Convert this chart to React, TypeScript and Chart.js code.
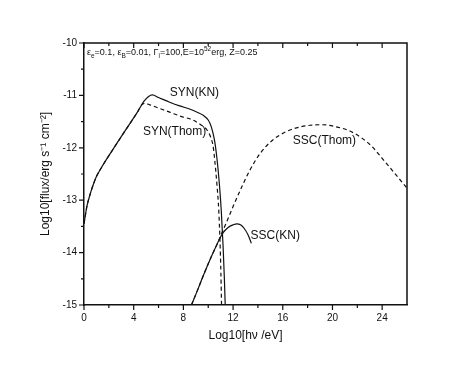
import React, { useEffect, useRef } from "react";
import { Chart, registerables } from "chart.js";
Chart.register(...registerables);

const FONT = "'Liberation Sans', Arial, sans-serif";
const INK = "#111";

const xMajorTicks = [0, 4, 8, 12, 16, 20, 24];
const xMinorTicks = [2, 6, 10, 14, 18, 22];
const yMajorTicks = [-15, -14, -13, -12, -11, -10];
const yMinorTicks = [-14.5, -13.5, -12.5, -11.5, -10.5];

const synKnX = [0, 0.1, 0.25, 0.5, 0.75, 1.0, 1.42, 2.33, 3.1, 3.8, 4.35, 4.8, 5.2, 5.5, 6.0, 6.9, 7.7, 8.5, 9.2, 9.6, 10.0, 10.25, 10.5, 10.7, 10.9, 11.05, 11.2, 11.3, 11.38];
const synKnY = [-13.45, -13.3, -13.1, -12.88, -12.7, -12.55, -12.37, -12.03, -11.75, -11.5, -11.3, -11.12, -11.02, -10.99, -11.04, -11.13, -11.2, -11.26, -11.33, -11.38, -11.47, -11.6, -11.85, -12.2, -12.7, -13.2, -13.9, -14.5, -15.1];

const synThX = [0, 0.1, 0.25, 0.5, 0.75, 1.0, 1.42, 2.33, 3.1, 3.8, 4.35, 4.6, 4.9, 5.3, 6.1, 6.9, 7.8, 8.76, 9.4, 9.9, 10.2, 10.4, 10.55, 10.7, 10.85, 10.95, 11.02, 11.08];
const synThY = [-13.45, -13.3, -13.1, -12.88, -12.7, -12.55, -12.37, -12.03, -11.75, -11.5, -11.3, -11.19, -11.15, -11.18, -11.25, -11.32, -11.4, -11.47, -11.56, -11.66, -11.8, -11.98, -12.3, -12.7, -13.2, -13.8, -14.4, -15.1];

const sscKnX = [8.65, 9.1, 9.5, 9.9, 10.3, 10.75, 11.2, 11.6, 12.0, 12.3, 12.6, 12.9, 13.2, 13.47];
const sscKnY = [-15.0, -14.74, -14.5, -14.27, -14.05, -13.82, -13.62, -13.52, -13.47, -13.45, -13.47, -13.54, -13.66, -13.82];

const sscThX = [8.65, 9.1, 9.5, 9.9, 10.3, 10.75, 11.2, 11.6, 12.0, 12.6, 13.3, 14.2, 15.2, 16.2, 17.1, 18.2, 19.2, 20.3, 21.4, 22.4, 23.2, 24.0, 24.6, 25.3, 26.0];
const sscThY = [-15.0, -14.74, -14.5, -14.27, -14.05, -13.82, -13.57, -13.35, -13.12, -12.8, -12.45, -12.1, -11.85, -11.7, -11.62, -11.57, -11.56, -11.6, -11.68, -11.82, -11.98, -12.2, -12.37, -12.57, -12.77];

const curveLabels: [string, number, number][] = [
  ["SYN(KN)", 6.9, -10.95],
  ["SYN(Thom)", 4.74, -11.7],
  ["SSC(Thom)", 16.8, -11.87],
  ["SSC(KN)", 13.41, -13.68],
];

// annotation: [text, kind] kind: n normal, b subscript, p superscript
const annotation: [string, string][] = [
  ["ε", "n"], ["e", "b"], ["=0.1, ε", "n"], ["B", "b"], ["=0.01, Γ", "n"], ["i", "b"],
  ["=100,E=10", "n"], ["52", "p"], ["erg, Z=0.25", "n"],
];
const annotationPos = [0.24, -10.19];

const toPts = (xs: number[], ys: number[]) => xs.map((x, i) => ({ x, y: ys[i] }));

const framePlugin = {
  id: "frame",
  afterDraw(chart: any) {
    const { ctx, chartArea, scales } = chart;
    const { left, right, top, bottom } = chartArea;
    const xs = scales.x, ys = scales.y;
    ctx.save();
    ctx.strokeStyle = INK;
    ctx.lineWidth = 1.5;
    ctx.beginPath();
    ctx.moveTo(left, top);
    ctx.lineTo(right, top);
    ctx.lineTo(right, bottom);
    ctx.stroke();
    ctx.lineWidth = 1.2;
    ctx.beginPath();
    const tickX = (v: number, len: number) => {
      const p = xs.getPixelForValue(v);
      ctx.moveTo(p, bottom);
      ctx.lineTo(p, bottom + len);
      ctx.moveTo(p, top);
      ctx.lineTo(p, top + len);
    };
    xMajorTicks.forEach((v) => tickX(v, 5));
    xMinorTicks.forEach((v) => tickX(v, 3));
    const tickY = (v: number, len: number) => {
      const p = ys.getPixelForValue(v);
      ctx.moveTo(left - len, p);
      ctx.lineTo(left, p);
    };
    yMajorTicks.forEach((v) => tickY(v, 5));
    yMinorTicks.forEach((v) => tickY(v, 3));
    ctx.stroke();

    ctx.fillStyle = INK;
    ctx.textBaseline = "middle";
    ctx.textAlign = "left";
    ctx.font = `12px ${FONT}`;
    curveLabels.forEach(([t, x, y]) => {
      ctx.fillText(t, xs.getPixelForValue(x), ys.getPixelForValue(y));
    });

    let px = xs.getPixelForValue(annotationPos[0]);
    const py = ys.getPixelForValue(annotationPos[1]);
    annotation.forEach(([t, k]) => {
      const size = k === "n" ? 9 : 6.5;
      const dy = k === "b" ? 3 : k === "p" ? -3.5 : 0;
      ctx.font = `${size}px ${FONT}`;
      ctx.fillText(t, px, py + dy);
      px += ctx.measureText(t).width;
    });
    ctx.restore();
  },
};

export default function App() {
  const ref = useRef<HTMLCanvasElement | null>(null);
  useEffect(() => {
    if (!ref.current) return;
    const common = { showLine: true, pointRadius: 0, borderColor: INK, borderWidth: 1.2, cubicInterpolationMode: "monotone" as const, fill: false };
    const chart = new Chart(ref.current, {
      type: "scatter",
      data: {
        datasets: [
          { ...common, data: toPts(synKnX, synKnY) },
          { ...common, borderDash: [4, 3], data: toPts(synThX, synThY) },
          { ...common, data: toPts(sscKnX, sscKnY) },
          { ...common, borderDash: [4, 3], data: toPts(sscThX, sscThY) },
        ],
      },
      options: {
        animation: false,
        responsive: false,
        layout: { padding: { left: 34, top: 43, right: 67, bottom: 19 } },
        plugins: { legend: { display: false }, tooltip: { enabled: false } },
        scales: {
          x: {
            type: "linear",
            min: 0,
            max: 26,
            position: "bottom",
            afterBuildTicks: (s: any) => { s.ticks = xMajorTicks.map((v) => ({ value: v })); },
            afterFit: (s: any) => { s.height = 42; },
            grid: { display: false, drawTicks: false },
            border: { display: true, color: INK, width: 1.5 },
            ticks: { font: { family: FONT, size: 10 }, color: INK, padding: 7, maxRotation: 0, autoSkip: false },
            title: { display: true, text: "Log10[hν /eV]", font: { family: FONT, size: 12 }, color: INK, padding: { top: 4, bottom: 4 } },
          },
          y: {
            type: "linear",
            min: -15,
            max: -10,
            position: "left",
            afterBuildTicks: (s: any) => { s.ticks = yMajorTicks.map((v) => ({ value: v })); },
            afterFit: (s: any) => { s.width = 50; },
            grid: { display: false, drawTicks: false },
            border: { display: true, color: INK, width: 1.5 },
            ticks: { font: { family: FONT, size: 10 }, color: INK, padding: 7, autoSkip: false },
            title: { display: true, text: "Log10[flux/erg s⁻¹ cm⁻²]", font: { family: FONT, size: 12 }, color: INK, padding: { top: 4, bottom: 4 } },
          },
        },
      },
      plugins: [framePlugin],
    } as any);
    return () => chart.destroy();
  }, []);
  return (
    <div style={{ position: "fixed", left: 0, top: 0, width: 474, height: 366, background: "#fff" }}>
      <canvas ref={ref} width={474} height={366} style={{ display: "block" }} />
    </div>
  );
}
